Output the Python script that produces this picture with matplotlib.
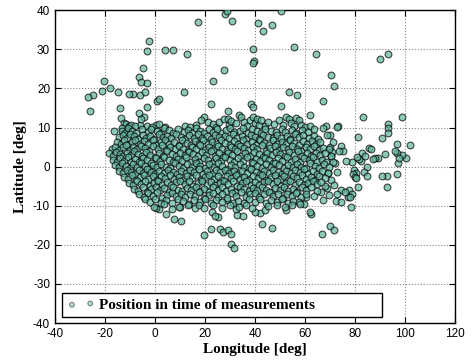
import numpy as np
import matplotlib
matplotlib.use("Agg")
import matplotlib.pyplot as plt

plt.rcParams['axes.unicode_minus'] = False

# scattered points above the main cloud (lon, lat)
north_outliers = [
    (-2.3, 32.1), (-3.3, 29.6), (4.0, 29.8), (7.1, 29.8), (12.9, 28.8), (17.1, 36.9),
    (27.9, 39.1), (28.6, 39.8), (30.8, 37.2), (27.5, 24.6), (23.2, 22.0), (-4.8, 25.3),
    (-6.3, 23.0), (-5.7, 21.6), (-3.1, 21.5), (-20.3, 21.8), (-17.9, 20.1), (-21.3, 19.4),
    (-24.7, 18.4), (-26.8, 17.8), (-26.0, 14.1), (-14.8, 19.1), (-14.0, 15.0), (-8.7, 18.5),
    (-6.0, 18.4), (-4.0, 19.0), (-3.3, 15.3), (-6.3, 13.6), (-4.3, 12.7), (0.8, 16.8),
    (1.7, 17.3), (11.6, 19.2), (22.4, 15.9), (29.2, 14.3), (-6.0, 10.6), (-3.3, 10.5),
    (-16.4, 9.2), (19.6, 12.6), (38.4, 16.0), (39.3, 15.3), (39.1, 30.0), (39.6, 27.1),
    (39.3, 26.6), (41.3, 36.8), (43.1, 34.6), (46.8, 36.3), (50.3, 39.7), (55.7, 30.6),
    (64.4, 28.7), (70.4, 23.5), (71.5, 20.6), (53.6, 19.1), (56.7, 18.4), (50.5, 15.6),
    (67.1, 16.7), (90.0, 27.6), (93.2, 28.8), (61.9, 13.2), (83.1, 12.8), (98.8, 12.8),
    (-10.5, 18.6), (-5.5, 12.3), (-13.7, 12.4),
]

# sparse eastern tail (lon, lat)
east_tail = [
    (93.0, 10.9), (93.0, 9.8), (93.0, 8.7), (90.7, 7.2), (81.1, 7.5), (73.3, 10.4),
    (72.9, 10.2), (68.4, 10.4), (69.9, 8.2), (67.3, 10.0), (96.8, 5.8), (102.1, 5.6),
    (100.5, 2.2), (98.7, 3.0), (96.7, 3.5), (96.7, -1.9), (92.7, -2.5), (90.7, -2.5),
    (92.7, -5.2), (97.2, 1.0), (97.5, 2.3), (96.0, 4.1), (91.9, 3.1), (89.1, 2.3),
    (88.0, 2.1), (87.0, 2.0), (85.6, 4.8), (86.5, 4.5), (84.9, -0.1), (83.5, -1.5),
    (84.7, -2.3), (82.5, 1.4), (81.6, 1.9), (82.8, 3.4), (84.0, 2.7), (80.7, 2.5),
    (78.7, 1.1), (79.6, -0.9), (80.2, -1.6), (79.1, -2.0), (79.8, -2.6), (80.4, -3.0),
    (81.1, -5.2), (77.5, -6.0), (78.8, -7.0), (77.0, -7.8), (78.0, -7.8), (78.3, -10.3),
    (74.3, -6.0), (72.9, -7.0), (72.3, -8.7), (74.4, -9.0), (74.5, 5.3), (75.2, 4.0),
    (73.7, 4.0), (70.1, 5.0), (71.0, 6.2), (69.2, -1.7), (68.9, -5.5), (69.6, -7.2),
    (67.9, -5.0), (70.4, 2.6), (72.1, 0.9), (72.6, -1.4), (70.2, -3.3), (71.4, -4.6),
    (67.1, -8.5), (68.6, 8.0), (70.8, 3.8), (66.2, -6.6), (75.8, -6.4), (76.4, 1.5),
]

# scattered points below the main cloud (lon, lat)
south_outliers = [
    (70.0, -15.2), (71.5, -16.1), (66.7, -17.3), (62.3, -12.1), (61.9, -11.6), (59.6, -9.6),
    (60.3, -7.7), (46.8, -15.6), (42.8, -14.7), (42.1, -11.8), (40.0, -11.5), (4.3, -12.0),
    (7.5, -13.5), (10.5, -13.8), (19.6, -17.4), (22.3, -15.9), (25.9, -15.9), (27.1, -16.7),
    (29.3, -16.1), (30.4, -17.1), (30.5, -19.8), (31.5, -20.7), (25.1, -12.9), (22.8, -11.5),
    (32.7, -12.4), (35.1, -12.5), (1.5, -10.9), (0.5, -10.7), (24.0, -12.6), (10.0, -10.4),
    (28.8, -8.6), (32.5, -10.8), (44.0, -11.2), (52.3, -11.0),
]

# main cloud, listed in latitude bands (lon, lat)
band_10_14 = [
    (-12.5, 11.2), (-11.5, 10.8), (-10.5, 10.3), (-13.0, 9.8), (-9.5, 10.6), (-8.0, 10.4),
    (0.5, 10.6), (1.8, 11.0), (-1.0, 10.2), (4.0, 10.2), (12.0, 10.4), (14.0, 10.2),
    (16.5, 10.6), (18.5, 11.8), (21.0, 11.5), (23.0, 10.8), (24.5, 10.2), (25.5, 11.3),
    (27.5, 12.1), (29.0, 12.2), (29.5, 10.7), (30.5, 11.6), (32.5, 11.2), (33.5, 13.2),
    (34.5, 12.6), (35.5, 11.4), (36.8, 10.3), (38.0, 11.8), (39.2, 12.6), (40.0, 11.2),
    (40.8, 12.3), (41.5, 10.6), (42.5, 11.8), (44.0, 10.4), (45.0, 11.5), (47.5, 10.8),
    (49.5, 11.9), (51.0, 10.6), (52.5, 12.7), (53.5, 12.2), (54.5, 11.2), (55.5, 10.3),
    (56.5, 12.5), (57.5, 11.9), (58.5, 10.7), (60.0, 10.1), (62.0, 10.4),
]
band_8_10 = [
    (-13.1, 9.2), (-11.8, 8.7), (-10.9, 9.8), (-9.2, 9.0), (-7.6, 8.6), (-5.3, 9.5),
    (-2.9, 8.8), (-1.4, 9.7), (0.9, 9.1), (2.6, 8.6), (3.8, 9.9), (5.7, 9.3), (7.2, 8.7),
    (9.1, 9.6), (11.4, 8.9), (13.2, 9.4), (14.9, 8.6), (16.3, 9.8), (17.8, 9.0),
    (19.6, 8.7), (21.7, 9.5), (23.1, 8.9), (24.8, 9.7), (26.9, 8.6), (28.3, 9.3),
    (30.1, 9.9), (31.6, 8.8), (33.9, 9.2), (35.2, 9.8), (37.1, 8.7), (38.8, 9.5),
    (40.6, 9.0), (42.3, 8.6), (43.8, 9.7), (46.2, 9.1), (48.4, 8.8), (50.7, 9.6),
    (52.1, 8.9), (54.6, 9.3), (56.3, 8.6), (58.9, 9.4), (61.2, 8.8), (63.4, 9.6),
]
band_7_8 = [
    (-14.2, 7.6), (-12.7, 8.1), (-11.3, 7.2), (-10.1, 8.3), (-8.4, 7.7), (-6.8, 7.1),
    (-4.6, 8.2), (-3.7, 7.4), (-1.9, 7.9), (-0.3, 7.1), (1.7, 8.4), (3.1, 7.5), (4.9, 7.9),
    (6.4, 7.2), (8.3, 8.3), (10.2, 7.6), (11.9, 7.1), (13.7, 8.0), (15.6, 7.4), (17.1, 8.4),
    (18.9, 7.3), (20.8, 7.8), (22.4, 7.1), (24.1, 8.2), (25.7, 7.5), (27.8, 7.9),
    (29.4, 7.2), (31.1, 8.3), (32.7, 7.4), (34.6, 7.9), (36.3, 7.1), (38.2, 8.1),
    (39.9, 7.5), (41.7, 7.0), (43.2, 8.2), (45.1, 7.6), (47.0, 7.2), (48.8, 8.1),
    (50.3, 7.4), (52.6, 7.9), (54.1, 7.1), (55.9, 8.3), (57.6, 7.5), (59.3, 8.0),
    (61.4, 7.3), (63.7, 7.8), (65.2, 7.1),
]
band_5_7 = [
    (-15.3, 6.2), (-13.6, 5.8), (-12.2, 6.7), (-10.7, 5.6), (-9.3, 6.4), (-7.8, 6.9),
    (-6.1, 5.7), (-4.2, 6.5), (-2.8, 5.9), (-0.9, 6.8), (0.4, 5.6), (2.3, 6.3), (4.1, 6.9),
    (5.6, 5.8), (7.7, 6.4), (9.4, 5.6), (10.9, 6.7), (12.6, 6.0), (14.3, 5.5), (16.0, 6.6),
    (17.7, 5.9), (19.3, 6.8), (21.1, 5.7), (22.9, 6.4), (24.6, 5.8), (26.2, 6.9),
    (28.0, 6.1), (29.8, 5.6), (31.4, 6.6), (33.2, 5.9), (35.0, 6.8), (36.9, 5.7),
    (38.6, 6.3), (40.2, 5.5), (41.9, 6.7), (43.6, 6.0), (45.4, 5.6), (47.1, 6.8),
    (48.7, 5.9), (50.6, 6.4), (52.3, 5.7), (54.0, 6.9), (55.6, 6.1), (57.4, 5.6),
    (59.1, 6.6), (60.8, 5.9), (62.6, 6.5), (64.3, 5.7), (66.1, 6.2),
]
band_4_5 = [
    (-17.2, 4.6), (-15.8, 5.1), (-14.4, 4.2), (-12.9, 4.9), (-11.6, 5.4), (-9.9, 4.3),
    (-8.6, 5.0), (-7.1, 4.4), (-5.4, 5.3), (-3.9, 4.7), (-2.2, 4.1), (-0.6, 5.2), (1.1, 4.5),
    (2.8, 5.4), (4.6, 4.2), (6.1, 4.9), (7.9, 4.4), (9.6, 5.3), (11.2, 4.6), (13.0, 4.1),
    (14.7, 5.0), (16.4, 4.5), (18.1, 5.4), (19.9, 4.3), (21.5, 4.9), (23.3, 4.2),
    (25.0, 5.2), (26.8, 4.6), (28.6, 4.1), (30.3, 5.1), (32.1, 4.4), (33.8, 5.3),
    (35.5, 4.7), (37.3, 4.2), (39.1, 5.0), (40.8, 4.5), (42.6, 5.4), (44.3, 4.1),
    (46.1, 4.8), (47.8, 5.3), (49.5, 4.3), (51.3, 4.9), (53.0, 4.4), (54.8, 5.2),
    (56.7, 4.6), (58.4, 4.1), (60.2, 5.1), (61.9, 4.5), (63.7, 5.3), (65.4, 4.2),
    (67.2, 4.8), (69.6, 4.4),
]
band_2_4 = [
    (-18.3, 3.4), (-16.9, 2.8), (-15.5, 3.8), (-14.1, 3.1), (-12.6, 2.6), (-11.2, 3.6),
    (-9.7, 2.9), (-8.3, 3.9), (-6.7, 3.2), (-5.1, 2.6), (-3.5, 3.7), (-1.8, 3.0),
    (-0.1, 2.5), (1.6, 3.5), (3.3, 2.8), (5.0, 3.9), (6.8, 3.1), (8.5, 2.6), (10.1, 3.6),
    (11.8, 2.9), (13.5, 3.8), (15.3, 3.2), (17.0, 2.6), (18.7, 3.7), (20.4, 3.0),
    (22.2, 3.9), (23.9, 2.7), (25.6, 3.4), (27.3, 2.5), (29.1, 3.6), (30.8, 3.0),
    (32.6, 3.9), (34.4, 2.8), (36.1, 3.5), (37.8, 2.6), (39.6, 3.7), (41.4, 3.1),
    (43.1, 2.5), (44.9, 3.6), (46.6, 2.9), (48.3, 3.8), (50.1, 3.2), (51.9, 2.6),
    (53.6, 3.7), (55.4, 3.0), (57.1, 3.9), (58.9, 2.7), (60.7, 3.4), (62.4, 2.6),
    (64.2, 3.6), (66.0, 2.9), (68.1, 3.5), (70.3, 2.8),
]
band_1_2 = [
    (-16.8, 1.7), (-15.3, 1.2), (-13.8, 2.2), (-12.3, 1.5), (-10.8, 2.4), (-9.4, 1.1),
    (-7.9, 1.9), (-6.3, 1.3), (-4.7, 2.3), (-3.1, 1.6), (-1.4, 1.0), (0.3, 2.1), (2.0, 1.4),
    (3.8, 2.4), (5.5, 1.8), (7.2, 1.1), (9.0, 2.0), (10.7, 1.5), (12.4, 2.4), (14.2, 1.2),
    (15.9, 1.9), (17.6, 1.3), (19.4, 2.3), (21.1, 1.6), (22.8, 1.0), (24.5, 2.1),
    (26.3, 1.4), (28.1, 2.4), (29.8, 1.7), (31.6, 1.1), (33.3, 2.2), (35.1, 1.5),
    (36.8, 2.4), (38.6, 1.2), (40.3, 1.9), (42.1, 1.4), (43.8, 2.3), (45.6, 1.6),
    (47.3, 1.0), (49.1, 2.1), (50.8, 1.5), (52.6, 2.4), (54.3, 1.3), (56.1, 1.9),
    (57.9, 1.2), (59.6, 2.2), (61.4, 1.6), (63.1, 2.4), (64.9, 1.1), (66.7, 1.8),
    (68.5, 1.3), (71.2, 1.2),
]
band_0_1 = [
    (-15.9, 0.4), (-14.5, -0.2), (-13.0, 0.8), (-11.5, 0.1), (-10.0, -0.4), (-8.6, 0.6),
    (-7.0, -0.1), (-5.5, 0.9), (-3.9, 0.2), (-2.3, -0.5), (-0.8, 0.5), (0.9, -0.2),
    (2.6, 0.7), (4.3, 0.0), (6.0, -0.4), (7.8, 0.8), (9.5, 0.1), (11.2, -0.3), (12.9, 0.6),
    (14.7, -0.1), (16.4, 0.9), (18.1, 0.2), (19.9, -0.4), (21.6, 0.6), (23.4, -0.1),
    (25.1, 0.8), (26.9, 0.1), (28.6, -0.5), (30.4, 0.5), (32.1, -0.2), (33.9, 0.7),
    (35.6, 0.0), (37.4, -0.4), (39.2, 0.8), (40.9, 0.2), (42.7, -0.3), (44.4, 0.6),
    (46.2, -0.1), (47.9, 0.9), (49.7, 0.3), (51.5, -0.4), (53.2, 0.5), (55.0, -0.2),
    (56.7, 0.7), (58.5, 0.0), (60.3, -0.4), (62.0, 0.8), (63.8, 0.1), (65.6, -0.3),
    (67.4, 0.6), (69.5, -0.1),
]
band_m2_0 = [
    (-14.2, -1.1), (-12.7, -1.7), (-11.1, -0.8), (-9.6, -1.5), (-8.0, -1.9), (-6.4, -0.9),
    (-4.8, -1.6), (-3.2, -0.7), (-1.6, -1.4), (0.1, -1.9), (1.8, -1.0), (3.5, -1.6),
    (5.2, -0.8), (7.0, -1.3), (8.7, -1.9), (10.4, -1.1), (12.2, -1.7), (13.9, -0.9),
    (15.6, -1.5), (17.4, -0.7), (19.1, -1.8), (20.9, -1.2), (22.6, -1.9), (24.4, -0.9),
    (26.1, -1.5), (27.9, -0.8), (29.6, -1.7), (31.4, -1.1), (33.1, -1.9), (34.9, -1.0),
    (36.7, -1.6), (38.4, -0.7), (40.2, -1.4), (41.9, -1.9), (43.7, -1.0), (45.5, -1.6),
    (47.2, -0.8), (49.0, -1.3), (50.8, -1.9), (52.5, -1.1), (54.3, -1.7), (56.0, -0.9),
    (57.8, -1.5), (59.6, -0.7), (61.3, -1.8), (63.1, -1.2), (64.9, -1.9), (66.7, -1.0),
    (69.2, -1.6),
]
band_m3_2 = [
    (-12.3, -2.6), (-10.7, -3.2), (-9.1, -2.2), (-7.5, -3.4), (-5.9, -2.7), (-4.2, -2.1),
    (-2.6, -3.1), (-0.9, -2.5), (0.8, -3.4), (2.5, -2.3), (4.2, -2.9), (6.0, -2.1),
    (7.7, -3.2), (9.4, -2.6), (11.2, -3.5), (12.9, -2.4), (14.7, -3.0), (16.4, -2.2),
    (18.2, -3.3), (19.9, -2.7), (21.7, -2.1), (23.4, -3.1), (25.2, -2.5), (26.9, -3.4),
    (28.7, -2.3), (30.4, -2.9), (32.2, -2.1), (33.9, -3.2), (35.7, -2.6), (37.5, -3.5),
    (39.2, -2.4), (41.0, -3.0), (42.7, -2.2), (44.5, -3.3), (46.3, -2.7), (48.0, -2.1),
    (49.8, -3.1), (51.6, -2.5), (53.3, -3.4), (55.1, -2.3), (56.9, -2.9), (58.6, -2.1),
    (60.4, -3.2), (62.2, -2.6), (63.9, -3.5), (65.7, -2.4), (67.8, -3.0),
]
band_m5_3 = [
    (-10.4, -4.1), (-8.8, -4.7), (-7.1, -3.8), (-5.5, -4.5), (-3.8, -3.6), (-2.1, -4.9),
    (-0.4, -4.2), (1.3, -3.7), (3.0, -4.6), (4.8, -3.9), (6.5, -4.8), (8.3, -4.0),
    (10.0, -3.6), (11.8, -4.5), (13.5, -3.8), (15.3, -4.9), (17.0, -4.2), (18.8, -3.7),
    (20.6, -4.6), (22.3, -3.9), (24.1, -4.8), (25.8, -4.1), (27.6, -3.6), (29.3, -4.5),
    (31.1, -3.8), (32.9, -4.9), (34.6, -4.2), (36.4, -3.7), (38.2, -4.6), (39.9, -3.9),
    (41.7, -4.8), (43.5, -4.0), (45.2, -3.6), (47.0, -4.5), (48.8, -3.8), (50.5, -4.9),
    (52.3, -4.2), (54.1, -3.7), (55.8, -4.6), (57.6, -3.9), (59.4, -4.8), (61.2, -4.1),
    (63.0, -3.6), (64.8, -4.5), (66.4, -3.9),
]
band_m6_5 = [
    (-8.3, -5.6), (-6.6, -6.2), (-4.9, -5.3), (-3.2, -6.4), (-1.5, -5.7), (0.3, -5.1),
    (2.1, -6.1), (3.8, -5.5), (5.6, -6.4), (7.3, -5.2), (9.1, -5.9), (10.9, -6.3),
    (12.6, -5.4), (14.4, -6.0), (16.2, -5.1), (17.9, -6.2), (19.7, -5.6), (21.5, -6.5),
    (23.2, -5.3), (25.0, -5.9), (26.8, -5.1), (28.5, -6.3), (30.3, -5.7), (32.1, -6.4),
    (33.8, -5.2), (35.6, -5.8), (37.4, -6.2), (39.1, -5.4), (40.9, -6.1), (42.7, -5.1),
    (44.5, -5.9), (46.2, -6.4), (48.0, -5.5), (49.8, -6.0), (51.5, -5.2), (53.3, -6.3),
    (55.1, -5.6), (56.8, -6.5), (58.6, -5.3), (60.4, -5.9), (62.2, -5.1), (64.6, -6.2),
]
band_m8_6 = [
    (-6.2, -7.1), (-4.4, -7.7), (-2.6, -6.8), (-0.8, -7.5), (1.0, -6.6), (2.9, -7.9),
    (4.7, -7.2), (6.6, -6.7), (8.4, -7.6), (10.3, -7.0), (12.1, -7.8), (14.0, -6.9),
    (15.8, -7.4), (17.7, -6.6), (19.5, -7.9), (21.4, -7.2), (23.2, -6.8), (25.1, -7.7),
    (26.9, -7.0), (28.8, -7.9), (30.6, -6.7), (32.5, -7.4), (34.3, -6.6), (36.2, -7.8),
    (38.0, -7.1), (39.9, -6.8), (41.7, -7.7), (43.6, -7.0), (45.4, -6.6), (47.3, -7.6),
    (49.1, -7.1), (51.0, -7.9), (52.8, -6.9), (54.7, -7.4), (56.5, -6.7), (58.4, -7.7),
    (60.3, -7.0), (63.5, -7.4),
]
band_m9_8 = [
    (-4.1, -8.4), (-1.9, -9.1), (0.2, -8.3), (2.4, -9.4), (4.6, -8.6), (6.8, -9.2),
    (9.0, -8.2), (11.2, -8.9), (13.4, -9.5), (15.6, -8.5), (17.8, -9.1), (20.0, -8.3),
    (22.2, -9.3), (24.4, -8.6), (26.6, -9.0), (31.0, -9.4), (33.2, -8.7), (35.4, -9.2),
    (37.6, -8.4), (39.8, -9.0), (42.0, -8.3), (44.2, -9.4), (46.4, -8.6), (48.6, -9.1),
    (50.8, -8.2), (53.0, -9.3), (55.2, -8.7), (57.4, -9.0),
]
band_m11_9 = [
    (-0.5, -10.4), (3.8, -9.6), (6.9, -10.8), (9.7, -10.2), (13.1, -9.8), (15.8, -10.6),
    (17.6, -9.9), (19.4, -10.7), (23.1, -9.9), (26.7, -10.5), (29.9, -9.7), (33.4, -10.3),
    (36.2, -9.8), (38.9, -10.6), (45.1, -10.1), (48.9, -9.7), (52.1, -10.2), (54.7, -9.8),
    (57.9, -9.6),
]

groups = [north_outliers, east_tail, south_outliers, band_10_14, band_8_10, band_7_8,
          band_5_7, band_4_5, band_2_4, band_1_2, band_0_1, band_m2_0, band_m3_2,
          band_m5_3, band_m6_5, band_m8_6, band_m9_8, band_m11_9]
pts = np.array([p for g in groups for p in g])
lon, lat = pts[:, 0], pts[:, 1]

fig = plt.figure(figsize=(4.74, 3.63), dpi=100)
ax = fig.add_axes([0.116, 0.110, 0.844, 0.862])

ax.scatter(lon, lat, s=24, c='#5fb49c', alpha=0.7, edgecolors='black',
           linewidths=0.8, label='Position in time of measurements', zorder=3)

ax.set_xlim(-40, 120)
ax.set_ylim(-40, 40)
ax.set_xticks(np.arange(-40, 121, 20))
ax.set_yticks(np.arange(-40, 41, 10))
ax.grid(True, linestyle=':', color='#888888', linewidth=0.8)
ax.tick_params(direction='in', length=4, top=True, right=True, labelsize=8.5)
for lbl in ax.get_xticklabels() + ax.get_yticklabels():
    lbl.set_fontfamily('Liberation Sans')
for sp in ax.spines.values():
    sp.set_linewidth(1.0)

ax.set_xlabel('Longitude [deg]', fontfamily='Liberation Serif', fontweight='bold',
              fontsize=11, labelpad=2)
ax.set_ylabel('Latitude [deg]', fontfamily='Liberation Serif', fontweight='bold',
              fontsize=11, labelpad=4)

leg = ax.legend(loc='lower left', bbox_to_anchor=(0.0175, 0.019, 0.80, 0.07),
                mode='expand', borderaxespad=0, scatterpoints=2, markerscale=0.7,
                fancybox=False, framealpha=1, handletextpad=0.3, borderpad=0.35,
                handlelength=1.8,
                prop={'family': 'Liberation Serif', 'weight': 'bold', 'size': 11})
leg.get_frame().set_edgecolor('black')
leg.get_frame().set_linewidth(1.0)
for h in leg.legend_handles:
    h.set_alpha(0.45)

fig.savefig('out.png', dpi=100)
